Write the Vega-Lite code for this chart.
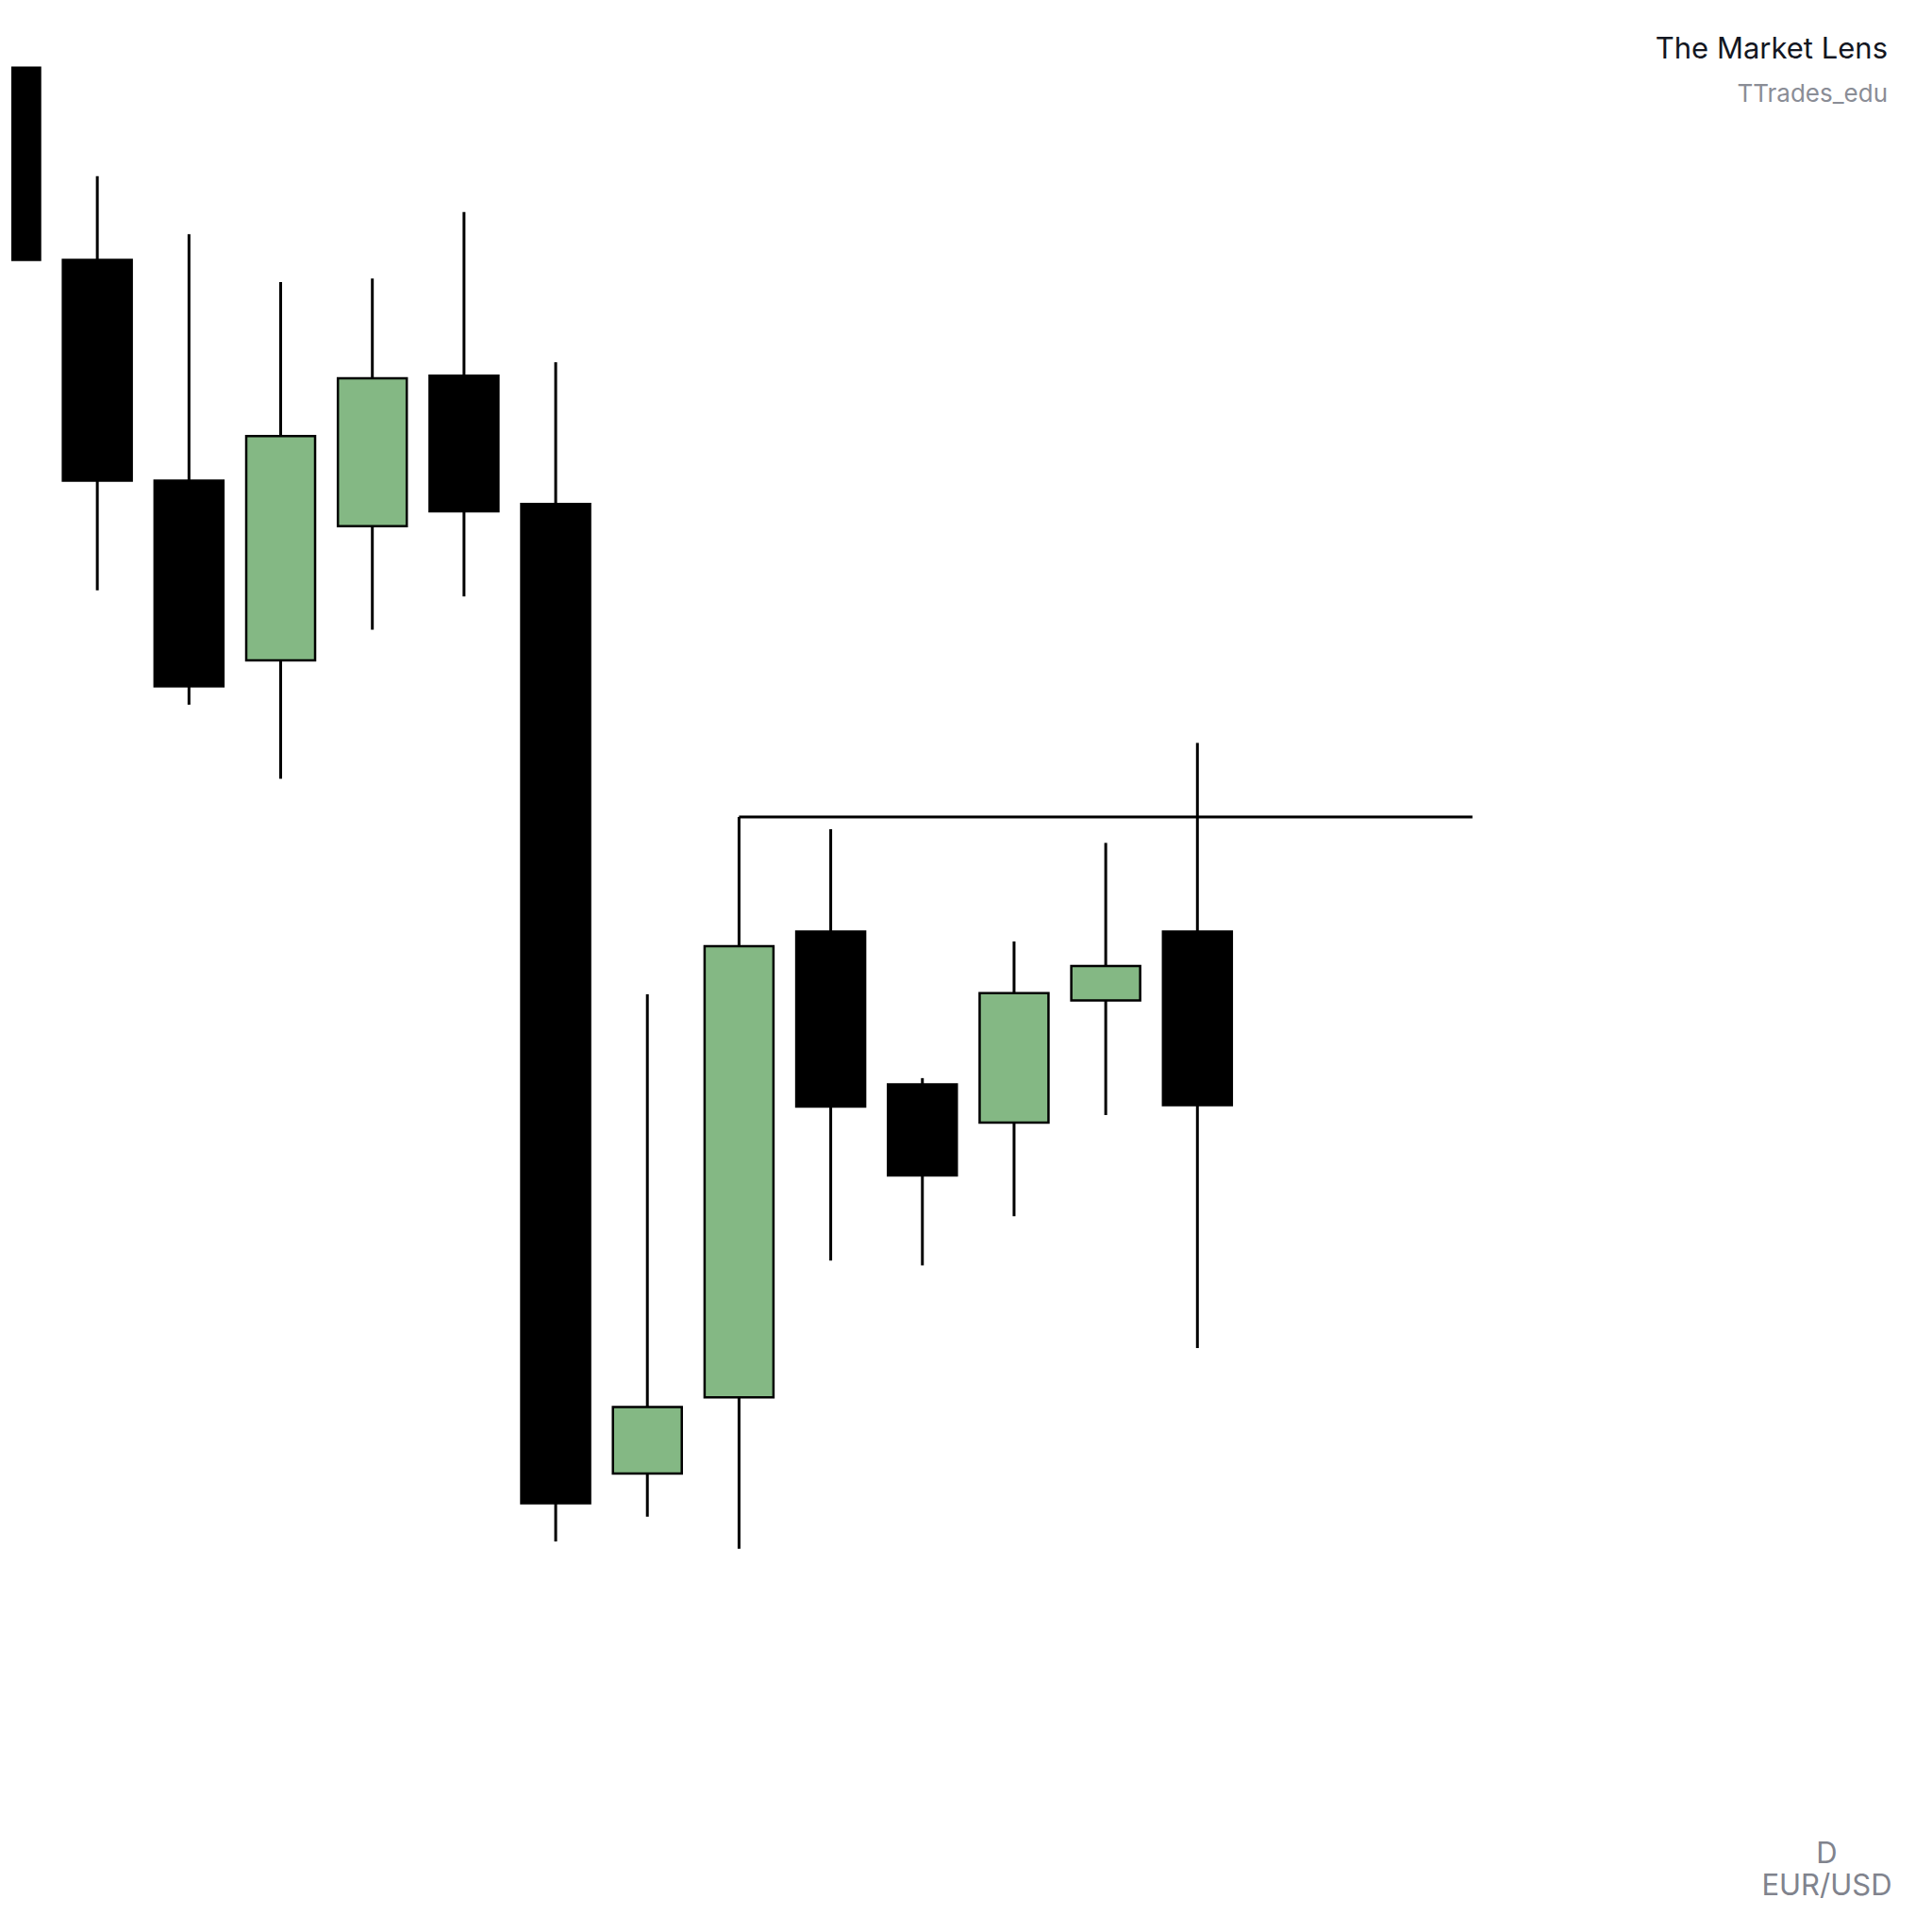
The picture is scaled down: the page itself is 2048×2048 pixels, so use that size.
{
  "$schema": "https://vega.github.io/schema/vega-lite/v6.json",
  "width": 2036,
  "height": 2048,
  "autosize": "none",
  "padding": {"left": 12, "top": 0, "right": 0, "bottom": 0},
  "background": "#ffffff",
  "title": {
    "text": "The Market Lens",
    "subtitle": "TTrades_edu",
    "orient": "top",
    "anchor": "end",
    "offset": -114,
    "dx": -47,
    "font": "Inter",
    "fontSize": 31,
    "fontWeight": "normal",
    "color": "#131722",
    "subtitleFont": "Inter",
    "subtitleFontSize": 26,
    "subtitleColor": "#8a8d96",
    "subtitlePadding": 18
  },
  "config": {"view": {"stroke": null}},
  "datasets": {
    "candles": [
      {"idx": 0, "open": 1.0978, "high": 1.0978, "low": 1.09156, "close": 1.09156},
      {"idx": 1, "open": 1.09156, "high": 1.09428, "low": 1.08084, "close": 1.0844},
      {"idx": 2, "open": 1.0844, "high": 1.0924, "low": 1.07712, "close": 1.07772},
      {"idx": 3, "open": 1.07856, "high": 1.09084, "low": 1.07472, "close": 1.08584},
      {"idx": 4, "open": 1.08292, "high": 1.09096, "low": 1.07956, "close": 1.08772},
      {"idx": 5, "open": 1.0878, "high": 1.09312, "low": 1.08064, "close": 1.0834},
      {"idx": 6, "open": 1.08364, "high": 1.08824, "low": 1.04996, "close": 1.0512},
      {"idx": 7, "open": 1.05216, "high": 1.06772, "low": 1.05076, "close": 1.05432},
      {"idx": 8, "open": 1.05464, "high": 1.07348, "low": 1.04972, "close": 1.06928},
      {"idx": 9, "open": 1.06976, "high": 1.07308, "low": 1.05908, "close": 1.06408},
      {"idx": 10, "open": 1.0648, "high": 1.065, "low": 1.05892, "close": 1.06184},
      {"idx": 11, "open": 1.06356, "high": 1.06944, "low": 1.06052, "close": 1.06776},
      {"idx": 12, "open": 1.06752, "high": 1.07264, "low": 1.0638, "close": 1.06864},
      {"idx": 13, "open": 1.06976, "high": 1.07588, "low": 1.05624, "close": 1.06412}
    ],
    "levels": [
      {"start": 8, "end": 16, "level": 1.07348}
    ]
  },
  "layer": [
    {
      "data": {"name": "candles"},
      "mark": {"type": "rule", "color": "#000000", "strokeWidth": 3, "clip": true},
      "encoding": {
        "x": {
          "field": "idx", "type": "quantitative",
          "scale": {"domain": [0.062, 21.013], "nice": false, "zero": false, "padding": 0},
          "axis": {
            "title": ["D", "EUR/USD"],
            "orient": "bottom",
            "domain": false, "ticks": false, "labels": false, "grid": false,
            "titleFont": "Inter", "titleFontSize": 31, "titleFontWeight": "normal",
            "titleColor": "#80838d",
            "titleAlign": "center", "titleBaseline": "alphabetic",
            "titleLineHeight": 34,
            "titleX": 1924, "titleY": -74
          }
        },
        "y": {
          "field": "low", "type": "quantitative",
          "scale": {"domain": [1.03728, 1.1], "nice": false, "zero": false, "padding": 0},
          "axis": null
        },
        "y2": {"field": "high"}
      }
    },
    {
      "data": {"name": "candles"},
      "mark": {"type": "bar", "size": 73, "stroke": "#000000", "strokeWidth": 2.5, "clip": true},
      "encoding": {
        "x": {"field": "idx", "type": "quantitative"},
        "y": {"field": "open", "type": "quantitative"},
        "y2": {"field": "close"},
        "color": {
          "condition": {"test": "datum.close > datum.open", "value": "#84b884"},
          "value": "#000000"
        }
      }
    },
    {
      "data": {"name": "levels"},
      "mark": {"type": "rule", "color": "#000000", "strokeWidth": 3, "clip": true},
      "encoding": {
        "x": {"field": "start", "type": "quantitative"},
        "x2": {"field": "end"},
        "y": {"field": "level", "type": "quantitative"}
      }
    }
  ]
}
